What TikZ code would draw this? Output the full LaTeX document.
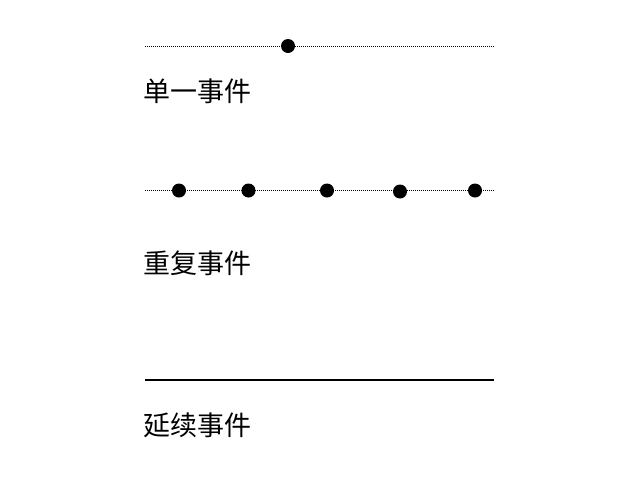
\documentclass[tikz,border=0pt]{standalone}
\usepackage{fontspec}
\newfontfamily\cjk{Noto Sans CJK SC}
\usetikzlibrary{positioning}
\tikzset{%
  tl/.style={line width=1pt, dash pattern=on 1pt off 1pt},
  span/.style={line width=2pt},
  ev/.style={circle, fill=black, inner sep=0pt, minimum size=14pt},
  lbl/.style={anchor=west, inner sep=0pt, font=\cjk\fontsize{27}{31}\selectfont}
}
\begin{document}
\begin{tikzpicture}[x=1pt, y=-1pt]
        \useasboundingbox (0,0) rectangle (624,480);
        % single event
        \coordinate (s1) at (145,46);
        \coordinate (e1) at (494,46);
        \draw[tl] (s1) -- (e1);
        \node[ev] (p1) at (288,46) {};
        \node[lbl] (l1) at (143,91.5) {单一事件};
        % repeated events
        \coordinate (s2) at (145,190);
        \coordinate (e2) at (494,190);
        \draw[tl] (s2) -- (e2);
        \node[ev] (q1) at (179,190.5) {};
        \node[ev] (q2) at (248.5,190.5) {};
        \node[ev] (q3) at (327,190.5) {};
        \node[ev] (q4) at (400,191.5) {};
        \node[ev] (q5) at (475,190.5) {};
        \node[lbl] (l2) at (143,263.5) {重复事件};
        % lasting event
        \coordinate (s3) at (145,380);
        \coordinate (e3) at (494,380);
        \draw[span] (s3) -- (e3);
        \node[lbl] (l3) at (143,425) {延续事件};
\end{tikzpicture}
\end{document}
